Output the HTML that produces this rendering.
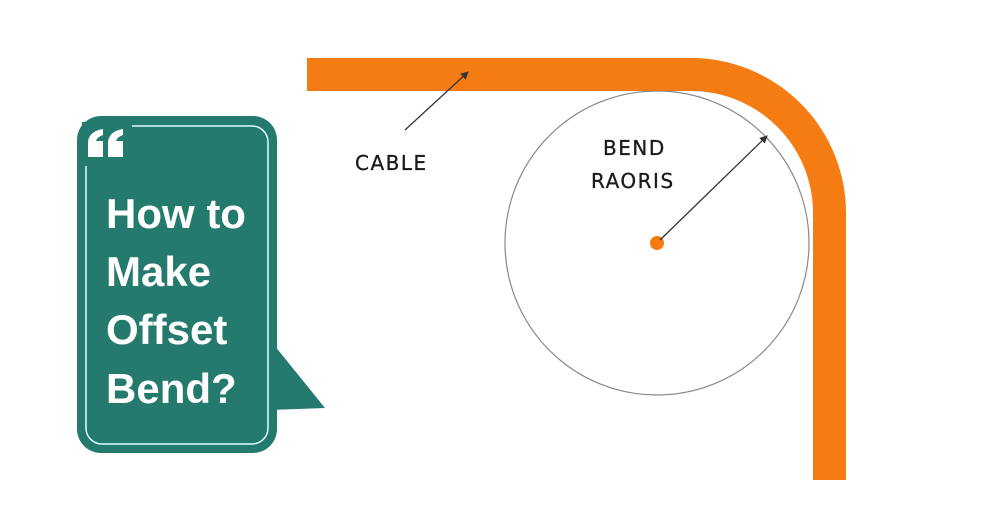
<!DOCTYPE html>
<html><head><style>
html,body{margin:0;padding:0;background:#fff;}
svg{display:block}
</style></head><body>
<svg width="992" height="519" viewBox="0 0 992 519" xmlns="http://www.w3.org/2000/svg">
<defs><marker id="ah" markerWidth="8" markerHeight="8" refX="7" refY="4" orient="auto" markerUnits="userSpaceOnUse"><path d="M0,0 L8,4 L0,8 z" fill="#333"/></marker></defs>
<circle cx="657" cy="243" r="152" fill="none" stroke="#888" stroke-width="1.2"/>
<path d="M307,74.5 H691 A138.5,138.5 0 0 1 829.5,213 V480" fill="none" stroke="#f57c13" stroke-width="33"/>
<circle cx="657" cy="243" r="7" fill="#f57c13"/>
<line x1="660" y1="240" x2="767" y2="136" stroke="#333" stroke-width="1.3" marker-end="url(#ah)"/>
<line x1="405" y1="130" x2="468" y2="72" stroke="#333" stroke-width="1.3" marker-end="url(#ah)"/>
<g font-family="DejaVu Sans, sans-serif" font-size="20" fill="#1a1a1a" letter-spacing="1.5" stroke="#1a1a1a" stroke-width="0.3">
<text x="355" y="170">CABLE</text>
<text x="603" y="155">BEND</text>
<text x="591" y="188">RAORIS</text>
</g>
<path d="M270,340 L325,408 L270,410 z" fill="#237a6d"/>
<rect x="77" y="116" width="200" height="337" rx="24" fill="#237a6d"/>
<rect x="86" y="126" width="182" height="318" rx="16" fill="none" stroke="#dff" stroke-width="1.5"/>
<rect x="82" y="122" width="50" height="44" fill="#237a6d"/>
<path d="M88,141 Q90,131 103,129 L103,135 Q97,137 96,141 L103,141 L103,157 L88,157 Z M108,141 Q110,131 123,129 L123,135 Q117,137 116,141 L123,141 L123,157 L108,157 Z" fill="#fff"/>
<g font-family="Liberation Sans, sans-serif" font-weight="bold" font-size="42" fill="#fff">
<text x="106" y="228">How to</text>
<text x="106" y="286">Make</text>
<text x="106" y="344">Offset</text>
<text x="106" y="403">Bend?</text>
</g>
</svg>
</body></html>
